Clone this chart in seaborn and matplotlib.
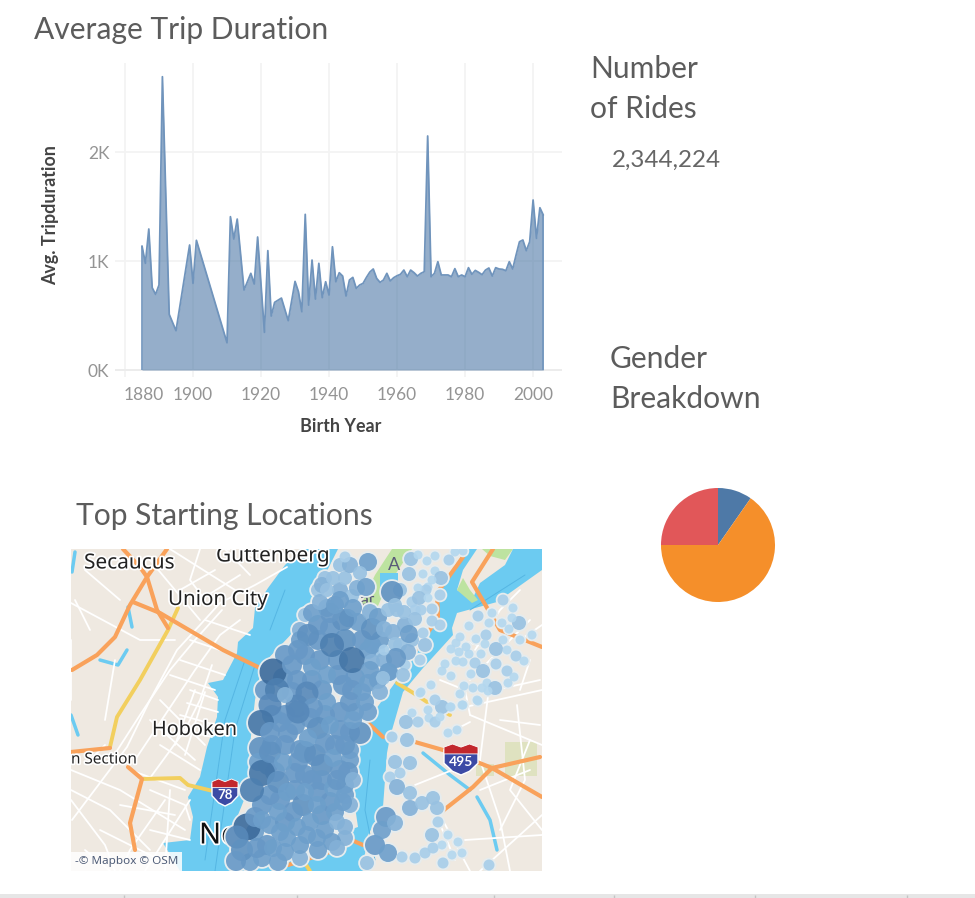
import matplotlib
matplotlib.use("Agg")
import matplotlib.pyplot as plt
import matplotlib.patheffects as pe
from matplotlib.patches import Polygon, Rectangle
from matplotlib.transforms import ScaledTranslation
import pandas as pd
import seaborn as sns

#area chart data
birth_years = [1885, 1886, 1887, 1888, 1889, 1890, 1891, 1893, 1895, 1899, 1900, 1901, 1910, 1911, 1912, 1913,
               1915, 1917, 1918, 1919, 1921, 1922, 1923, 1924, 1926, 1928, 1930, 1931, 1932, 1933, 1934, 1935,
               1936, 1937, 1938, 1939, 1940, 1941, 1942, 1943, 1944, 1945, 1946, 1947, 1948, 1949, 1950, 1951,
               1952, 1953, 1954, 1955, 1956, 1957, 1958, 1959, 1960, 1961, 1962, 1963, 1964, 1965, 1966, 1967,
               1968, 1969, 1970, 1971, 1972, 1973, 1974, 1975, 1976, 1977, 1978, 1979, 1980, 1981, 1982, 1983,
               1984, 1985, 1986, 1987, 1988, 1989, 1990, 1991, 1992, 1993, 1994, 1995, 1996, 1997, 1998, 1999,
               2000, 2001, 2002, 2003]
avg_trip = [1138, 979, 1294, 755, 694, 780, 2691, 511, 361, 1147, 795, 1190, 250, 1407, 1202, 1385,
            734, 887, 789, 1220, 346, 1095, 495, 621, 660, 453, 813, 719, 535, 1428, 596, 1009,
            651, 979, 664, 810, 688, 1131, 810, 893, 862, 679, 826, 850, 749, 780, 795, 850,
            899, 927, 841, 804, 826, 887, 817, 847, 865, 878, 917, 856, 917, 893, 862, 887,
            902, 2147, 856, 887, 994, 872, 872, 872, 856, 930, 856, 872, 856, 939, 878, 914,
            896, 875, 917, 936, 862, 939, 927, 924, 911, 994, 927, 1055, 1177, 1193, 1095, 1177,
            1560, 1208, 1489, 1422]
year_ticks = [1880, 1900, 1920, 1940, 1960, 1980, 2000]
k_ticks = [0, 1000, 2000]
k_labels = ["0K", "1K", "2K"]

#pie data
gender_share = [9.7, 65.3, 25.0]
gender_colors = ["#4E79A7", "#F58F2A", "#E15759"]

rides_total = "2,344,224"

#stations on the map, position in map pixels and ride count (thousands)
station_x = [340, 325, 318, 305, 300, 405, 412, 400, 415, 440, 400, 440, 425, 420, 378, 405,
             322, 340, 352, 340, 327, 348, 318, 330, 358, 370, 300, 318, 345, 362, 380, 372,
             285, 305, 320, 338, 368, 384, 283, 297, 312, 338, 355, 378, 265, 292, 322, 352, 362,
             272, 285, 310, 325, 340, 355, 368, 280, 295, 318, 340, 350, 272, 285, 305, 335, 350,
             268, 298, 322, 350, 340, 275, 305, 322, 345, 270, 295, 318, 345, 262, 280, 303, 330, 350,
             270, 285, 322, 335, 255, 280, 307, 325, 345, 285, 300, 318, 262, 250,
             273, 297, 277, 308, 298, 332, 352, 372, 392, 343, 330, 312, 320, 327, 333, 345, 350, 345, 368, 360,
             357, 366, 353, 335, 378, 395, 393, 372, 370, 388, 368, 380, 350, 343, 327, 312, 292, 307, 327, 270,
             285, 313, 365, 261, 260, 258, 262, 252, 247, 237, 242, 236, 255, 257, 267, 278, 278, 270, 270, 298,
             288, 300, 315, 325, 308, 312, 295, 283, 293, 297, 278, 262, 317, 333, 337, 348, 333, 345, 360, 353,
             330, 353, 343, 337, 345, 332, 337, 317, 300, 287, 273, 310, 305, 287,
             386, 375, 382, 388, 395, 410, 433, 422, 437, 438, 432, 433, 425, 415, 402, 367, 443, 452, 462, 448,
             458, 442, 489, 395, 410, 390, 400, 397, 410, 407, 392, 406, 418, 412, 429, 435, 442, 435, 450, 462,
             477, 440, 457, 448, 431, 420,
             503, 513, 519, 512, 492, 478, 469, 489, 460, 476, 486, 502, 509, 532, 520, 503, 485, 496, 507, 466,
             456, 451, 459, 469, 481, 516, 524, 496, 475, 445, 456, 463, 483, 507, 514, 442, 471, 451, 487, 508,
             495, 488, 473, 482, 464, 460, 421, 451, 463, 478, 428,
             411, 418, 427, 435, 449, 455, 463, 409, 423, 435, 441, 432, 428, 426, 418, 412, 419, 428, 404, 421,
             432, 415, 432, 409, 423, 397, 388, 384, 395, 408, 396, 384, 389, 403, 383]
station_y = [565, 578, 590, 615, 630, 625, 640, 645, 610, 595, 590, 625, 645, 660, 650, 665,
             585, 590, 596, 600, 608, 618, 625, 628, 622, 612, 640, 640, 640, 640, 640, 645,
             655, 655, 660, 660, 650, 660, 678, 680, 680, 675, 678, 680, 690, 692, 690, 690, 692,
             715, 715, 718, 715, 712, 712, 712, 722, 725, 728, 730, 732, 745, 745, 752, 745, 750,
             765, 762, 765, 760, 770, 772, 775, 780, 785, 795, 790, 792, 795, 805, 800, 805, 802, 805,
             825, 822, 815, 812, 832, 832, 835, 830, 838, 852, 858, 850, 858, 862,
             672, 706, 690, 635, 650, 645, 660, 629, 592, 620, 613, 613, 602, 590, 578, 578, 565, 557, 562, 573,
             588, 587, 608, 605, 617, 605, 632, 662, 670, 672, 683, 692, 702, 685, 675, 667, 665, 693, 702, 705,
             695, 708, 702, 723, 748, 762, 773, 790, 827, 837, 850, 861, 817, 848, 845, 862, 782, 752, 732, 712,
             733, 750, 755, 743, 738, 780, 773, 762, 812, 827, 812, 820, 805, 788, 780, 772, 758, 745, 733, 720,
             725, 780, 802, 822, 827, 842, 848, 838, 845, 838, 848, 822, 792, 792,
             817, 845, 830, 853, 823, 808, 798, 803, 808, 822, 835, 848, 853, 858, 857, 863, 863, 855, 853, 835,
             842, 845, 865, 762, 763, 777, 773, 787, 793, 740, 737, 722, 722, 713, 718, 722, 707, 700, 707, 705,
             700, 717, 730, 733, 685, 693,
             600, 608, 623, 618, 613, 616, 626, 623, 637, 639, 635, 623, 629, 635, 640, 640, 644, 649, 650, 647,
             643, 649, 652, 654, 654, 656, 661, 664, 663, 664, 661, 662, 671, 671, 677, 671, 674, 676, 683, 683,
             688, 691, 688, 688, 686, 694, 692, 707, 705, 701, 710,
             559, 555, 561, 556, 560, 552, 551, 574, 574, 571, 578, 580, 587, 590, 588, 602, 598, 598, 612, 610,
             609, 619, 621, 634, 633, 610, 610, 629, 644, 652, 658, 650, 672, 675, 678]
station_rides = [25, 25, 25, 25, 36, 36, 25, 25, 16, 16, 25, 16, 25, 16, 25, 16,
                 36, 36, 25, 49, 49, 49, 64, 64, 49, 36, 49, 64, 81, 64, 49, 49,
                 64, 64, 64, 64, 49, 36, 64, 64, 64, 64, 64, 49, 64, 64, 64, 64, 49,
                 64, 64, 64, 64, 64, 49, 49, 64, 64, 81, 64, 64, 64, 64, 81, 64, 49,
                 64, 64, 81, 49, 64, 64, 64, 64, 49, 64, 64, 64, 49, 64, 64, 81, 64, 36,
                 49, 64, 64, 49, 49, 49, 49, 49, 36, 49, 36, 49, 49, 49,
                 169, 100, 121, 81, 64, 121, 144, 81, 81, 81, 64, 49, 36, 25, 25, 25, 36, 16, 49, 25,
                 36, 49, 49, 49, 49, 25, 36, 36, 49, 49, 49, 36, 64, 64, 49, 49, 64, 100, 49, 100,
                 36, 64, 49, 144, 81, 49, 144, 121, 169, 100, 81, 64, 64, 64, 64, 49, 81, 81, 64, 100,
                 64, 64, 81, 64, 49, 64, 64, 49, 64, 49, 49, 49, 49, 49, 64, 64, 49, 64, 81, 49,
                 49, 36, 49, 36, 36, 49, 36, 49, 49, 49, 49, 49, 49, 49,
                 64, 64, 49, 49, 36, 36, 25, 25, 25, 16, 25, 16, 16, 16, 16, 25, 16, 9, 9, 9,
                 9, 9, 16, 25, 25, 16, 16, 36, 25, 25, 16, 25, 16, 9, 9, 16, 25, 16, 9, 9,
                 9, 9, 9, 9, 9, 9,
                 16, 9, 25, 9, 9, 16, 9, 9, 9, 9, 16, 9, 9, 9, 9, 9, 9, 25, 9, 9,
                 9, 9, 9, 9, 9, 16, 9, 16, 16, 9, 9, 9, 25, 16, 9, 9, 9, 9, 9, 9,
                 25, 9, 9, 9, 9, 9, 9, 9, 9, 9, 9,
                 25, 9, 9, 9, 16, 9, 9, 25, 9, 9, 25, 9, 9, 16, 9, 16, 25, 9, 25, 16,
                 16, 25, 16, 49, 16, 25, 25, 36, 25, 36, 64, 16, 49, 25, 25]

#map outlines, in map pixels
water_outline = [(300, 549), (285, 565), (268, 588), (255, 608), (253, 628), (238, 642), (237, 653), (223, 680),
                 (208, 683), (218, 697), (217, 717), (207, 747), (200, 777), (188, 797), (193, 817), (190, 840),
                 (163, 843), (180, 871), (363, 871), (367, 837), (383, 807), (387, 753), (390, 737), (403, 692),
                 (423, 668), (453, 635), (452, 628), (457, 613), (497, 602), (542, 570), (542, 549)]
manhattan_outline = [(338, 549), (300, 625), (262, 665), (255, 700), (250, 745), (248, 790), (232, 830), (228, 858),
                     (330, 854), (340, 833), (358, 827), (353, 793), (355, 753), (368, 720), (397, 680), (417, 650),
                     (438, 620), (437, 597), (463, 553), (466, 549)]
randalls_outline = [(477, 549), (513, 549), (505, 565), (480, 583), (472, 600), (457, 590), (463, 570)]
randalls_green = [(482, 549), (513, 549), (505, 560), (490, 556)]
randalls_green_low = [(457, 590), (463, 578), (470, 590), (478, 600), (472, 603)]
central_park = [(392, 549), (412, 549), (385, 590), (362, 642), (350, 628), (375, 575)]
highways = [[(72, 670), (97, 655), (115, 637), (130, 605), (147, 577), (140, 567), (123, 549)],
            [(147, 577), (157, 610), (168, 628)], [(167, 549), (147, 577)],
            [(133, 602), (160, 613), (223, 650), (260, 668)], [(71, 752), (110, 748)],
            [(128, 767), (142, 779), (130, 823), (135, 850)],
            [(463, 557), (437, 593), (438, 617), (425, 637), (400, 673)], [(367, 722), (383, 737)],
            [(415, 742), (443, 750), (477, 762), (492, 768), (542, 797)], [(492, 768), (540, 757)],
            [(492, 768), (473, 787), (440, 813)], [(493, 549), (472, 582), (500, 630), (542, 647)],
            [(340, 835), (363, 845)], [(288, 865), (330, 852)]]
yellow_roads = [[(178, 608), (168, 630), (140, 680), (117, 717), (110, 747)],
                [(142, 779), (180, 778), (188, 785), (213, 791)],
                [(397, 683), (415, 694), (427, 702), (450, 715)], [(303, 860), (310, 871)]]
white_roads = [[(72, 820), (127, 747), (150, 700), (177, 650), (200, 625), (220, 603), (255, 585), (287, 567)],
               [(113, 757), (140, 715), (170, 670), (195, 640), (222, 610)],
               [(135, 760), (165, 715), (195, 670), (220, 635), (240, 620)],
               [(150, 778), (185, 730), (200, 700), (212, 665)],
               [(71, 770), (120, 790), (185, 830)], [(71, 790), (110, 810), (150, 850)],
               [(71, 800), (105, 845), (115, 871)], [(150, 790), (185, 805), (190, 820)],
               [(165, 800), (130, 850), (120, 871)], [(150, 560), (200, 620)],
               [(71, 603), (140, 640), (175, 640)], [(200, 549), (190, 580), (205, 600)],
               [(225, 549), (250, 575)], [(170, 549), (235, 590)],
               [(190, 690), (218, 700)], [(187, 703), (218, 712)], [(180, 715), (216, 725)], [(175, 728), (212, 737)],
               [(195, 690), (175, 745)], [(205, 692), (185, 755)], [(150, 830), (190, 840)],
               [(170, 790), (165, 871)], [(145, 871), (190, 800)],
               [(160, 700), (205, 745)], [(150, 720), (195, 760)], [(170, 675), (215, 690)], [(180, 660), (225, 675)],
               [(190, 640), (235, 655)], [(205, 620), (250, 635)], [(160, 745), (200, 770)], [(130, 770), (185, 790)],
               [(120, 805), (175, 815)], [(100, 830), (160, 860)], [(85, 850), (110, 871)], [(90, 760), (105, 745)],
               [(180, 590), (215, 570)], [(200, 600), (240, 575)], [(240, 549), (262, 562)], [(71, 640), (71, 700)],
               [(85, 570), (120, 600)], [(90, 630), (75, 600)], [(115, 660), (105, 720)],
               [(465, 707), (542, 690)], [(470, 715), (542, 745)], [(445, 735), (470, 722)],
               [(415, 785), (465, 765)], [(490, 680), (480, 760), (500, 820), (510, 871)],
               [(480, 871), (542, 815)], [(465, 840), (542, 835)], [(517, 705), (525, 780), (500, 830)],
               [(430, 800), (455, 860)], [(520, 590), (500, 610), (475, 650)], [(460, 640), (530, 660), (520, 690)],
               [(470, 680), (500, 650), (530, 620)], [(440, 680), (465, 690), (470, 715)],
               [(530, 740), (510, 790), (542, 830)], [(440, 815), (470, 871)], [(500, 720), (540, 725)],
               [(480, 790), (530, 770)], [(520, 640), (542, 625)], [(495, 690), (540, 680)]]
creeks = [[(128, 607), (132, 627)], [(100, 660), (118, 665), (127, 650)], [(71, 715), (78, 735)],
          [(423, 753), (450, 775), (470, 790)], [(477, 797), (490, 820), (497, 850)], [(75, 552), (72, 572)]]
river_lines = [[(245, 660), (225, 720), (215, 790), (205, 860)], [(255, 665), (235, 730), (225, 800), (215, 871)],
               [(285, 590), (270, 630)], [(370, 760), (365, 810), (375, 860)], [(470, 610), (525, 575)]]

W, H = 975, 898

#bubble radius in pixels for each ride count
bubble_radius = {9: 4.5, 16: 5.5, 25: 7, 36: 8, 49: 9, 64: 10, 81: 11, 100: 11.5, 121: 12, 144: 13, 169: 13.5}


#makes an axes from pixel edges of the picture
def px_axes(fig, left, top, right, bottom):
    return fig.add_axes([left / W, 1 - bottom / H, (right - left) / W, (bottom - top) / H])


def px_text(fig, x, y, s, **kwargs):
    fig.text(x / W, 1 - y / H, s, va="center", **kwargs)


sns.set_theme(style="white")
plt.rcParams["font.family"] = ["Lato", "DejaVu Sans"]
fig = plt.figure(figsize=(W / 100, H / 100), dpi=100, facecolor="white")

#titles
title_color = "#5C5C5C"
title_size = 21.6
px_text(fig, 34, 30, "Average Trip Duration", fontsize=title_size, color=title_color)
px_text(fig, 590, 69, "Number", fontsize=title_size, color=title_color)
px_text(fig, 590, 109, "of Rides", fontsize=title_size, color=title_color)
px_text(fig, 612, 160, rides_total, fontsize=17.4, color="#666666")
px_text(fig, 610, 359, "Gender", fontsize=title_size, color=title_color)
px_text(fig, 610, 399, "Breakdown", fontsize=title_size, color=title_color)
px_text(fig, 76, 516, "Top Starting Locations", fontsize=title_size, color=title_color)

#area chart
ax = px_axes(fig, 115, 63, 562, 377)
trips = pd.DataFrame({"year": birth_years, "avg": avg_trip})
ax.fill_between(trips["year"], trips["avg"], color="#4E79A7", alpha=0.6, linewidth=0, zorder=2)
sns.lineplot(data=trips, x="year", y="avg", color="#7094BC", linewidth=1.3, ax=ax, zorder=3)
ax.vlines([birth_years[0], birth_years[-1]], 0, [avg_trip[0], avg_trip[-1]], color="#7094BC", linewidth=1.2, zorder=3)
ax.set_xlim(1877.06, 2008.5)
ax.set_ylim(-64, 2817)
ax.set_xticks(year_ticks)
ax.set_yticks(k_ticks, labels=k_labels)
ax.grid(True, color="#F3F3F3", linewidth=1.3, zorder=0)
ax.set_axisbelow(True)
ax.axhline(0, color="#ECECEC", linewidth=1.3, zorder=1)
sns.despine(ax=ax, left=True, bottom=True)
ax.tick_params(axis="both", length=0, labelsize=12.5, labelcolor="#949494")
ax.tick_params(axis="x", pad=7)
ax.tick_params(axis="y", pad=4)
#first year label sits off its tick in the original
first = ax.get_xticklabels()[0]
first.set_transform(first.get_transform() + ScaledTranslation(19 / 100, 0, fig.dpi_scale_trans))
ax.set_xlabel("")
ax.set_ylabel("")
px_text(fig, 341, 426, "Birth Year", fontsize=12.9, color="#444444", fontweight="bold", ha="center")
fig.text(51 / W, 1 - 215 / H, "Avg. Tripduration", fontsize=12.9, color="#444444", fontweight="bold",
         rotation=90, ha="center", va="center")

#pie
pie_ax = px_axes(fig, 661, 488, 775, 602)
pie_ax.pie(gender_share, colors=gender_colors, startangle=90, counterclock=False, radius=1,
           wedgeprops={"linewidth": 0, "edgecolor": "none"})
pie_ax.set_xlim(-1, 1)
pie_ax.set_ylim(-1, 1)

#map
map_ax = px_axes(fig, 71, 549, 542, 871)
map_ax.set_xlim(71, 542)
map_ax.set_ylim(871, 549)
map_ax.set_facecolor("#EFE9E1")
map_ax.set_xticks([])
map_ax.set_yticks([])
for spine in map_ax.spines.values():
    spine.set_visible(False)

water = "#6CCBF1"
map_ax.add_patch(Polygon(water_outline, facecolor=water, edgecolor="none", zorder=1))
map_ax.add_patch(Polygon(manhattan_outline, facecolor="#EFE9E1", edgecolor="none", zorder=1.1))
map_ax.add_patch(Polygon(randalls_outline, facecolor="#EFE9E1", edgecolor="none", zorder=1.1))
map_ax.add_patch(Polygon(randalls_green, facecolor="#BDE3A0", edgecolor="none", zorder=1.15))
map_ax.add_patch(Polygon(randalls_green_low, facecolor="#BDE3A0", edgecolor="none", zorder=1.15))
map_ax.add_patch(Polygon(central_park, facecolor="#BDE3A0", edgecolor="none", zorder=1.2))
map_ax.add_patch(Rectangle((505, 742), 32, 34, facecolor="#DFE2C0", edgecolor="none", zorder=1.2))
map_ax.add_patch(Rectangle((476, 764), 18, 12, facecolor="#DFE2C0", edgecolor="none", zorder=1.2))
map_ax.add_patch(Rectangle((380, 573), 18, 14, facecolor=water, edgecolor="none", zorder=1.3))

for line in river_lines:
    map_ax.plot(*zip(*line), color="#55B6E3", linewidth=0.7, zorder=1.4)
for line in creeks:
    map_ax.plot(*zip(*line), color=water, linewidth=2.5, zorder=1.5)
for line in white_roads:
    map_ax.plot(*zip(*line), color="white", linewidth=1.3, zorder=2)
for line in yellow_roads:
    map_ax.plot(*zip(*line), color="#F2CF5E", linewidth=2.8, zorder=3)
for line in highways:
    map_ax.plot(*zip(*line), color="#F9A25B", linewidth=3, zorder=3.1)

#map labels under the bubbles
label_halo = [pe.withStroke(linewidth=2.5, foreground="white")]
map_ax.text(394, 565, "A", fontsize=13, color="#5A5A78", ha="center", va="center", zorder=3.5)
map_ax.text(367, 600, "at", fontsize=13, color="#5A5A78", ha="center", va="center", zorder=3.5)
map_ax.text(199, 836, "Ne", fontsize=21, color="#111111", va="center", zorder=3.5, path_effects=label_halo,
            family="Noto Sans")

#bubbles, a pale layer first gives the outline round the clusters
stations = pd.DataFrame({"x": station_x, "y": station_y, "rides": station_rides})
bubble_map = sns.blend_palette(["#B3D7EF", "#6D9FCB", "#5C8DBD", "#4A7CAD", "#3B6A9B"], as_cmap=True)
bubble_area = {rides: (2 * r * 0.72) ** 2 for rides, r in bubble_radius.items()}
halo_area = {rides: (2 * (r + 1.8) * 0.72) ** 2 for rides, r in bubble_radius.items()}
sns.scatterplot(data=stations, x="x", y="y", size="rides", sizes=halo_area, color="#E6ECEE", linewidth=0,
                legend=False, ax=map_ax, zorder=4)
sns.scatterplot(data=stations, x="x", y="y", size="rides", sizes=bubble_area,
                hue="rides", hue_norm=(9, 169), palette=bubble_map, alpha=0.9, linewidth=0,
                legend=False, ax=map_ax, zorder=5)
map_ax.set_xlabel("")
map_ax.set_ylabel("")

for name, x, y, size in [("Secaucus", 84, 563, 15), ("Union City", 168, 600, 14.8),
                         ("Hoboken", 152, 730, 14.3), ("n Section", 71, 760, 11)]:
    map_ax.text(x, y, name, fontsize=size, color="#222222", va="center", zorder=6, path_effects=label_halo,
                family="Noto Sans")
map_ax.text(216, 556, "Guttenberg", fontsize=15, color="#222222", va="center", zorder=6,
            path_effects=label_halo, family="Noto Sans", clip_on=True)


#interstate shield
def shield(cx, top, w, h, number, size):
    body = [(cx - w / 2, top + h * 0.18), (cx + w / 2, top + h * 0.18), (cx + w / 2, top + h * 0.62),
            (cx + w * 0.25, top + h * 0.88), (cx, top + h), (cx - w * 0.25, top + h * 0.88), (cx - w / 2, top + h * 0.62)]
    cap = [(cx - w / 2, top + h * 0.32), (cx - w / 2, top + h * 0.1), (cx - w * 0.25, top), (cx, top + h * 0.1),
           (cx + w * 0.25, top), (cx + w / 2, top + h * 0.1), (cx + w / 2, top + h * 0.32)]
    map_ax.add_patch(Polygon(body, facecolor="#3C4BA5", edgecolor="white", linewidth=1, zorder=6))
    map_ax.add_patch(Polygon(cap, facecolor="#C2282D", edgecolor="white", linewidth=0.6, zorder=6.1))
    map_ax.text(cx, top + h * 0.58, number, fontsize=size, color="white", fontweight="bold",
                ha="center", va="center", zorder=6.2)


shield(225, 779, 26, 27, "78", 9.5)
shield(461, 744, 34, 31, "495", 10)

map_ax.add_patch(Rectangle((71, 852), 111, 19, facecolor="white", alpha=0.85, edgecolor="none", zorder=7))
map_ax.text(75, 861.5, "-© Mapbox © OSM", fontsize=8.4, color="#4F5D78", va="center", zorder=8, family="Noto Sans")

#strip along the bottom of the screenshot
strip = px_axes(fig, 0, 894, 975, 898)
strip.set_xlim(0, 975)
strip.set_ylim(0, 1)
strip.axis("off")
strip.add_patch(Rectangle((0, 0), 975, 1, facecolor="#E6E6E6", edgecolor="none"))
strip.vlines([124, 297, 494, 614, 755, 907], 0, 0.8, color="#C4C4C4", linewidth=1)

fig.savefig("out.png", dpi=100)
